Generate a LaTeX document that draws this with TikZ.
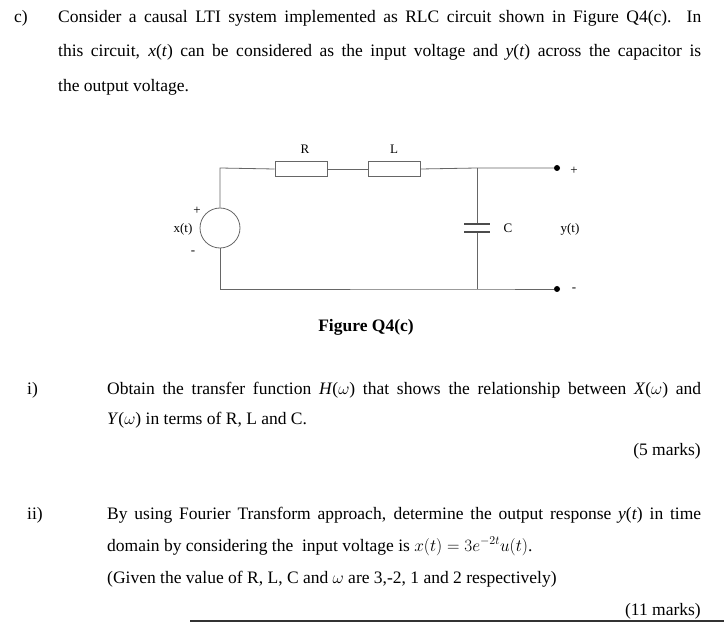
\documentclass[tikz,border=0pt]{standalone}
\usepackage{fontspec}
\setmainfont{Liberation Serif}
\begin{document}
\begin{tikzpicture}[x=1pt,y=-1pt,
  txt/.style={anchor=base west,inner sep=0pt,font=\fontsize{17.5}{19}\selectfont},
  lab/.style={inner sep=0pt,font=\fontsize{13}{15}\selectfont},
  wire/.style={draw=black!60,line width=0.8pt},
  res/.style={draw=black!60,line width=0.8pt,fill=white,minimum width=52pt,minimum height=15pt,inner sep=0pt},
  dot/.style={circle,fill=black,inner sep=0pt,minimum size=6pt}]
\useasboundingbox (0,0) rectangle (724,623);
% text
\node[txt] (c) at (14,23) {c)};
\node[txt] (l1) at (58,23) {\makebox[643pt][s]{Consider a causal LTI system implemented as RLC circuit shown in Figure Q4(c). In}};
\node[txt] (l2) at (58,57) {\makebox[643pt][s]{this circuit, \textit{x}(\textit{t}) can be considered as the input voltage and \textit{y}(\textit{t}) across the capacitor is}};
\node[txt] (l3) at (58,92) {the output voltage.};
\node[txt,font=\fontsize{17.5}{19}\selectfont\bfseries,anchor=base] (fig) at (366,331) {Figure Q4(c)};
\node[txt] (i) at (27,394) {i)};
\node[txt] (i1) at (107,394) {\makebox[594pt][s]{Obtain the transfer function \textit{H}($\omega$) that shows the relationship between \textit{X}($\omega$) and}};
\node[txt] (i2) at (107,424) {\textit{Y}($\omega$) in terms of R, L and C.};
\node[txt,anchor=base east] (m5) at (701,455) {(5 marks)};
\node[txt] (ii) at (27,519) {ii)};
\node[txt] (ii1) at (107,519) {\makebox[594pt][s]{By using Fourier Transform approach, determine the output response \textit{y}(\textit{t}) in time}};
\node[txt] (ii2) at (107,551) {domain by considering the\ \ input voltage is $x(t)=3e^{-2t}u(t)$.};
\node[txt] (ii3) at (107,583) {(Given the value of R, L, C and $\omega$ are 3,-2, 1 and 2 respectively)};
\node[txt,anchor=base east] (m11) at (701,615) {(11 marks)};
\draw[line width=2pt,black!80] (190,621) -- (724,621);
% circuit
\coordinate (tl) at (220,168);
\coordinate (bl) at (220,289);
\coordinate (ct) at (477,168);
\coordinate (cb) at (477,289);
\node[dot] (tp) at (557,168) {};
\node[dot] (tm) at (557,289) {};
\node[draw=black!60,line width=0.8pt,circle,minimum size=40pt,inner sep=0pt] (src) at (220,228) {};
\node[res] (R) at (301,169) {};
\node[res] (L) at (394,169) {};
\coordinate (c1) at (477,224);
\coordinate (c2) at (477,232);
\draw[wire] (src.north) -- (tl) -- (R.west);
\draw[wire] (R.east) -- (L.west);
\draw[wire] (L.east) -- (ct) -- (tp);
\draw[wire] (src.south) -- (bl) -- (cb) -- (tm);
\draw[wire] (ct) -- (c1);
\draw[wire] (c2) -- (cb);
\draw[black!70,line width=1.3pt] ([xshift=-13pt]c1) -- ([xshift=13pt]c1);
\draw[black!70,line width=1.3pt] ([xshift=-13pt]c2) -- ([xshift=13pt]c2);
\node[lab] (Rl) at (305,149) {R};
\node[lab] (Ll) at (394,149) {L};
\node[lab] (Cl) at (508,228) {C};
\node[lab] (yl) at (570,229) {y(t)};
\node[lab] (xl) at (183,229) {x(t)};
\node[lab] (p1) at (197,211) {+};
\node[lab] (m1) at (193,253) {-};
\node[lab] (p2) at (574,171) {+};
\node[lab] (m2) at (574,290) {-};
\end{tikzpicture}
\end{document}
